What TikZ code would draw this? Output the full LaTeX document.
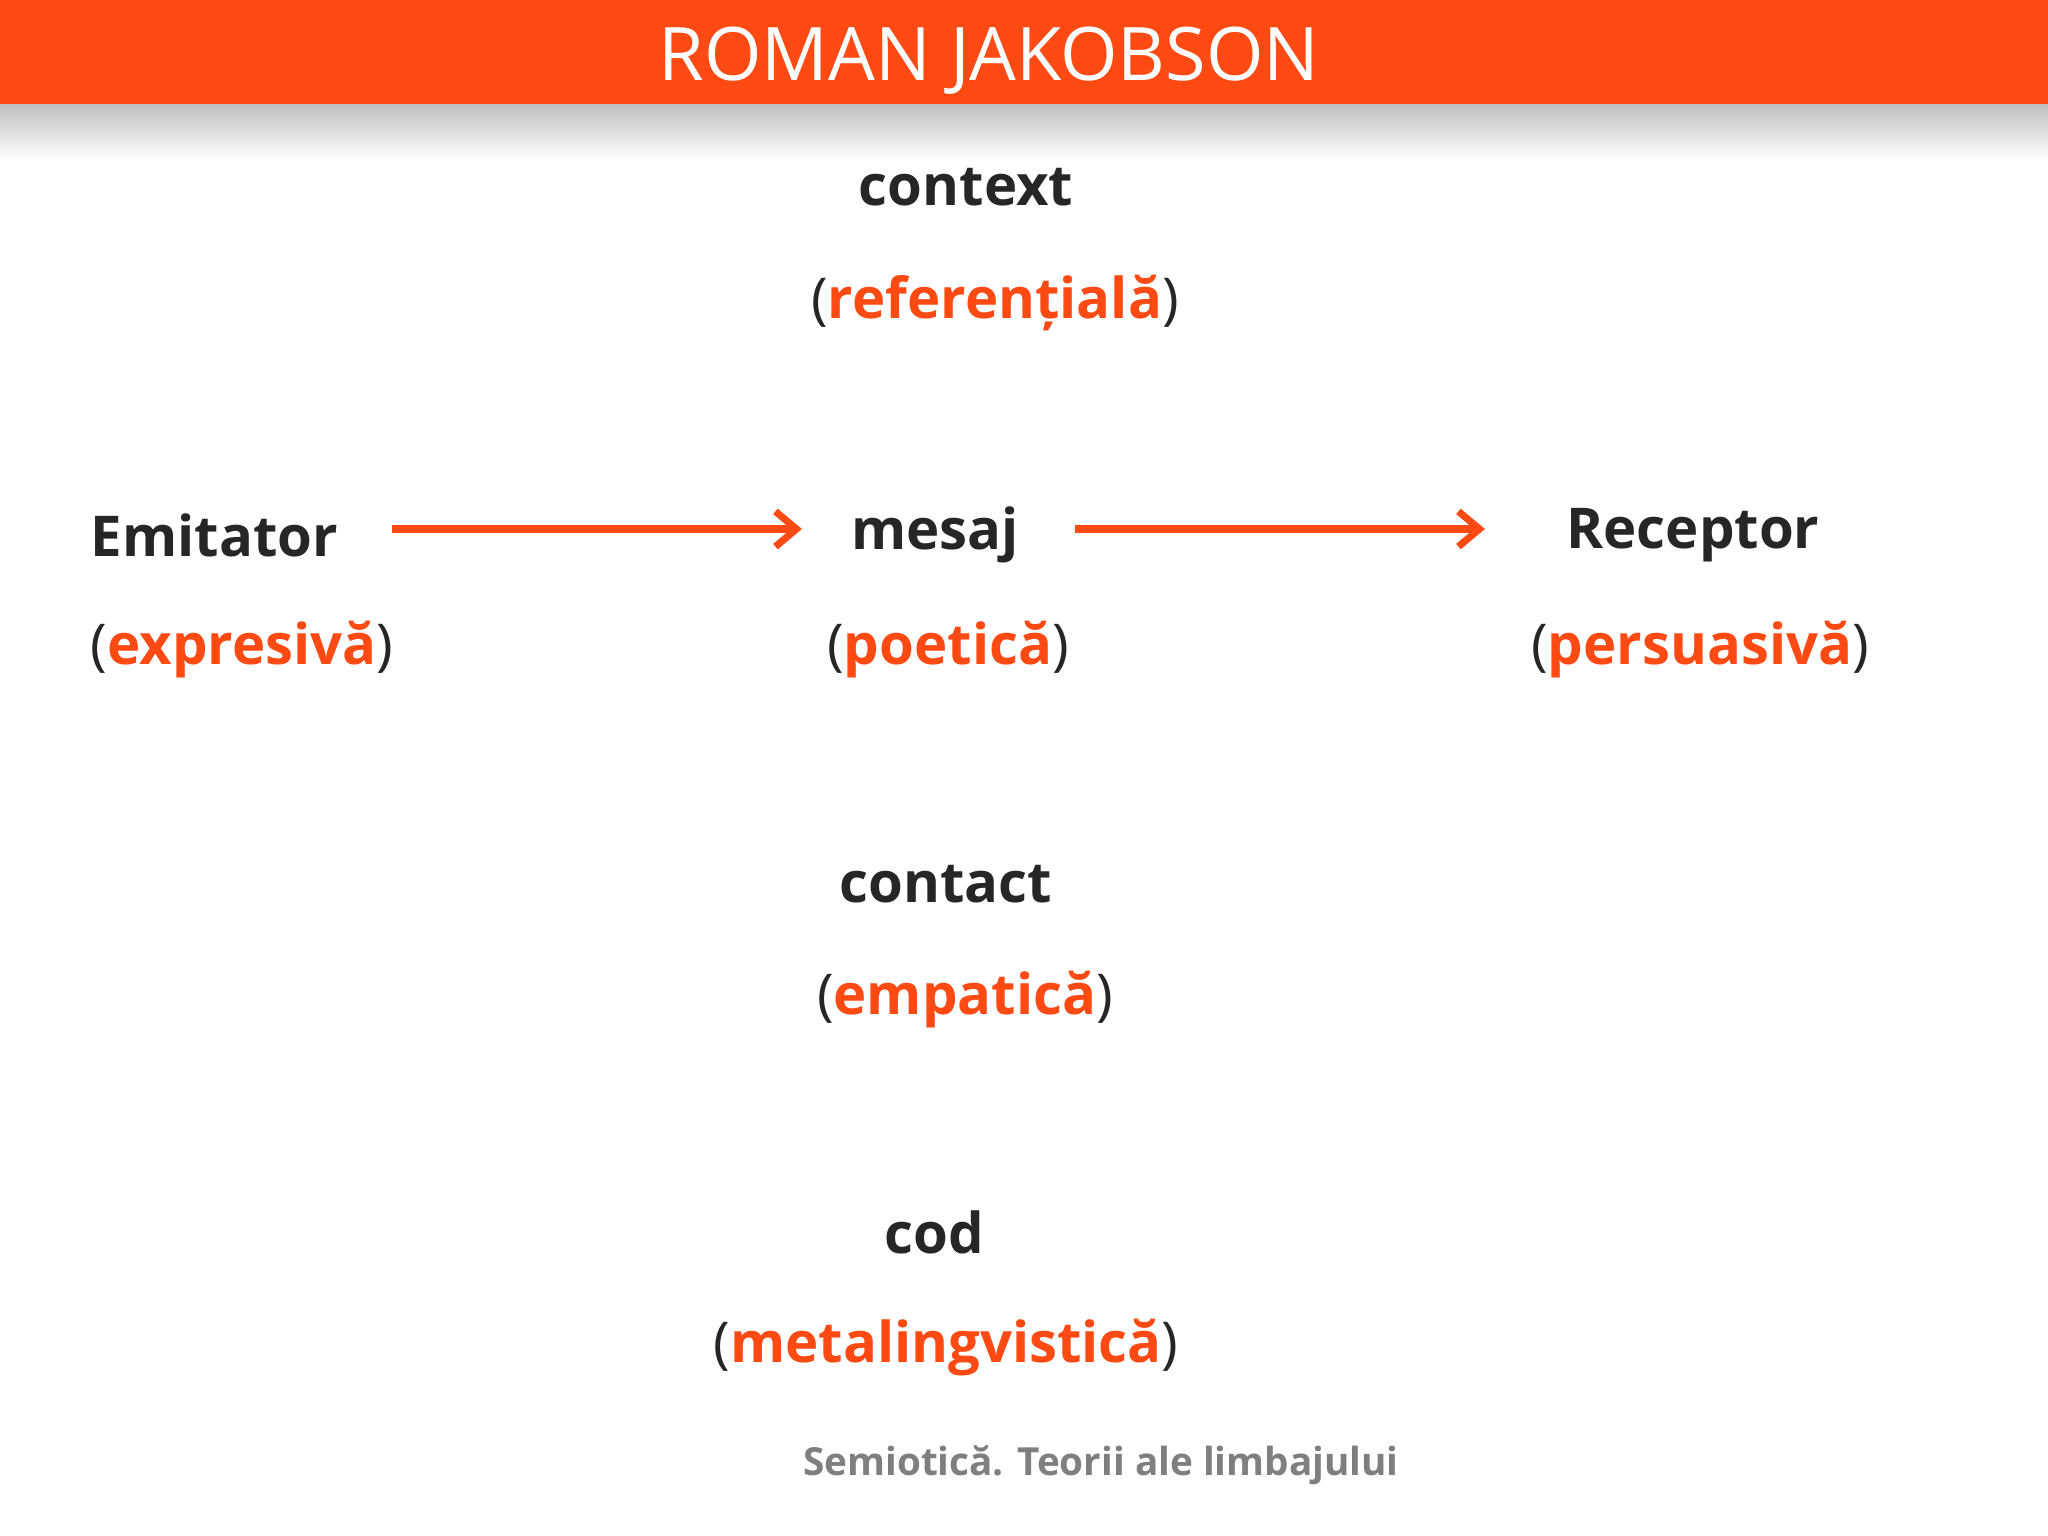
\documentclass[tikz,border=0pt]{standalone}
\usepackage{fontspec}
\setmainfont{Open Sans}
\usetikzlibrary{arrows.meta}
\definecolor{jorange}{HTML}{FF4A14}
\definecolor{jdark}{HTML}{262626}
\definecolor{jgray}{HTML}{7F7F7F}
\tikzset{
  term/.style={font=\fontsize{16}{19}\selectfont\bfseries, text=jdark, inner sep=0pt},
  func/.style={font=\fontsize{16}{19}\selectfont\bfseries, text=jdark, inner sep=0pt},
  flow/.style={draw=jorange, line width=2pt, -{Straight Barb[length=6pt,width=10pt,line width=2pt]}}
}
\newcommand{\fn}[1]{\textmd{(}\textcolor{jorange}{#1}\textmd{)}}
\begin{document}
\begin{tikzpicture}[x=0.01cm,y=-0.01cm]
\useasboundingbox (0,0) rectangle (2048,1536);
\fill[white] (0,0) rectangle (2048,1536);
\shade[top color=black!25, bottom color=white] (0,104) rectangle (2048,160);
\fill[jorange] (0,0) rectangle (2048,104);
\node[font=\fontsize{21}{25}\selectfont, text=white, inner sep=0pt] (title) at (989,61) {ROMAN JAKOBSON};
\node[term] (context) at (966,187) {context};
\node[func] (fref) at (995,303) {\fn{referențială}};
\node[term, anchor=west] (emit) at (90,535) {Emitator};
\node[func, anchor=west] (fexp) at (90,650) {\fn{expresivă}};
\node[term] (mesaj) at (935,535) {mesaj};
\node[func] (fpoet) at (948,650) {\fn{poetică}};
\node[term] (recep) at (1693,535) {Receptor};
\node[func] (fpers) at (1700,650) {\fn{persuasivă}};
\node[term] (contact) at (946,884) {contact};
\node[func] (femp) at (965,1000) {\fn{empatică}};
\node[term] (cod) at (934,1232) {cod};
\node[func] (fmeta) at (946,1348) {\fn{metalingvistică}};
\node[font=\fontsize{11}{13}\selectfont\bfseries, text=jgray, inner sep=0pt] (footer) at (1101,1465) {Semiotică. Teorii ale limbajului};
\coordinate (a1s) at (392,529); \coordinate (a1e) at (802,529);
\coordinate (a2s) at (1075,529); \coordinate (a2e) at (1485,529);
\draw[flow] (a1s) -- (a1e);
\draw[flow] (a2s) -- (a2e);
\end{tikzpicture}
\end{document}
